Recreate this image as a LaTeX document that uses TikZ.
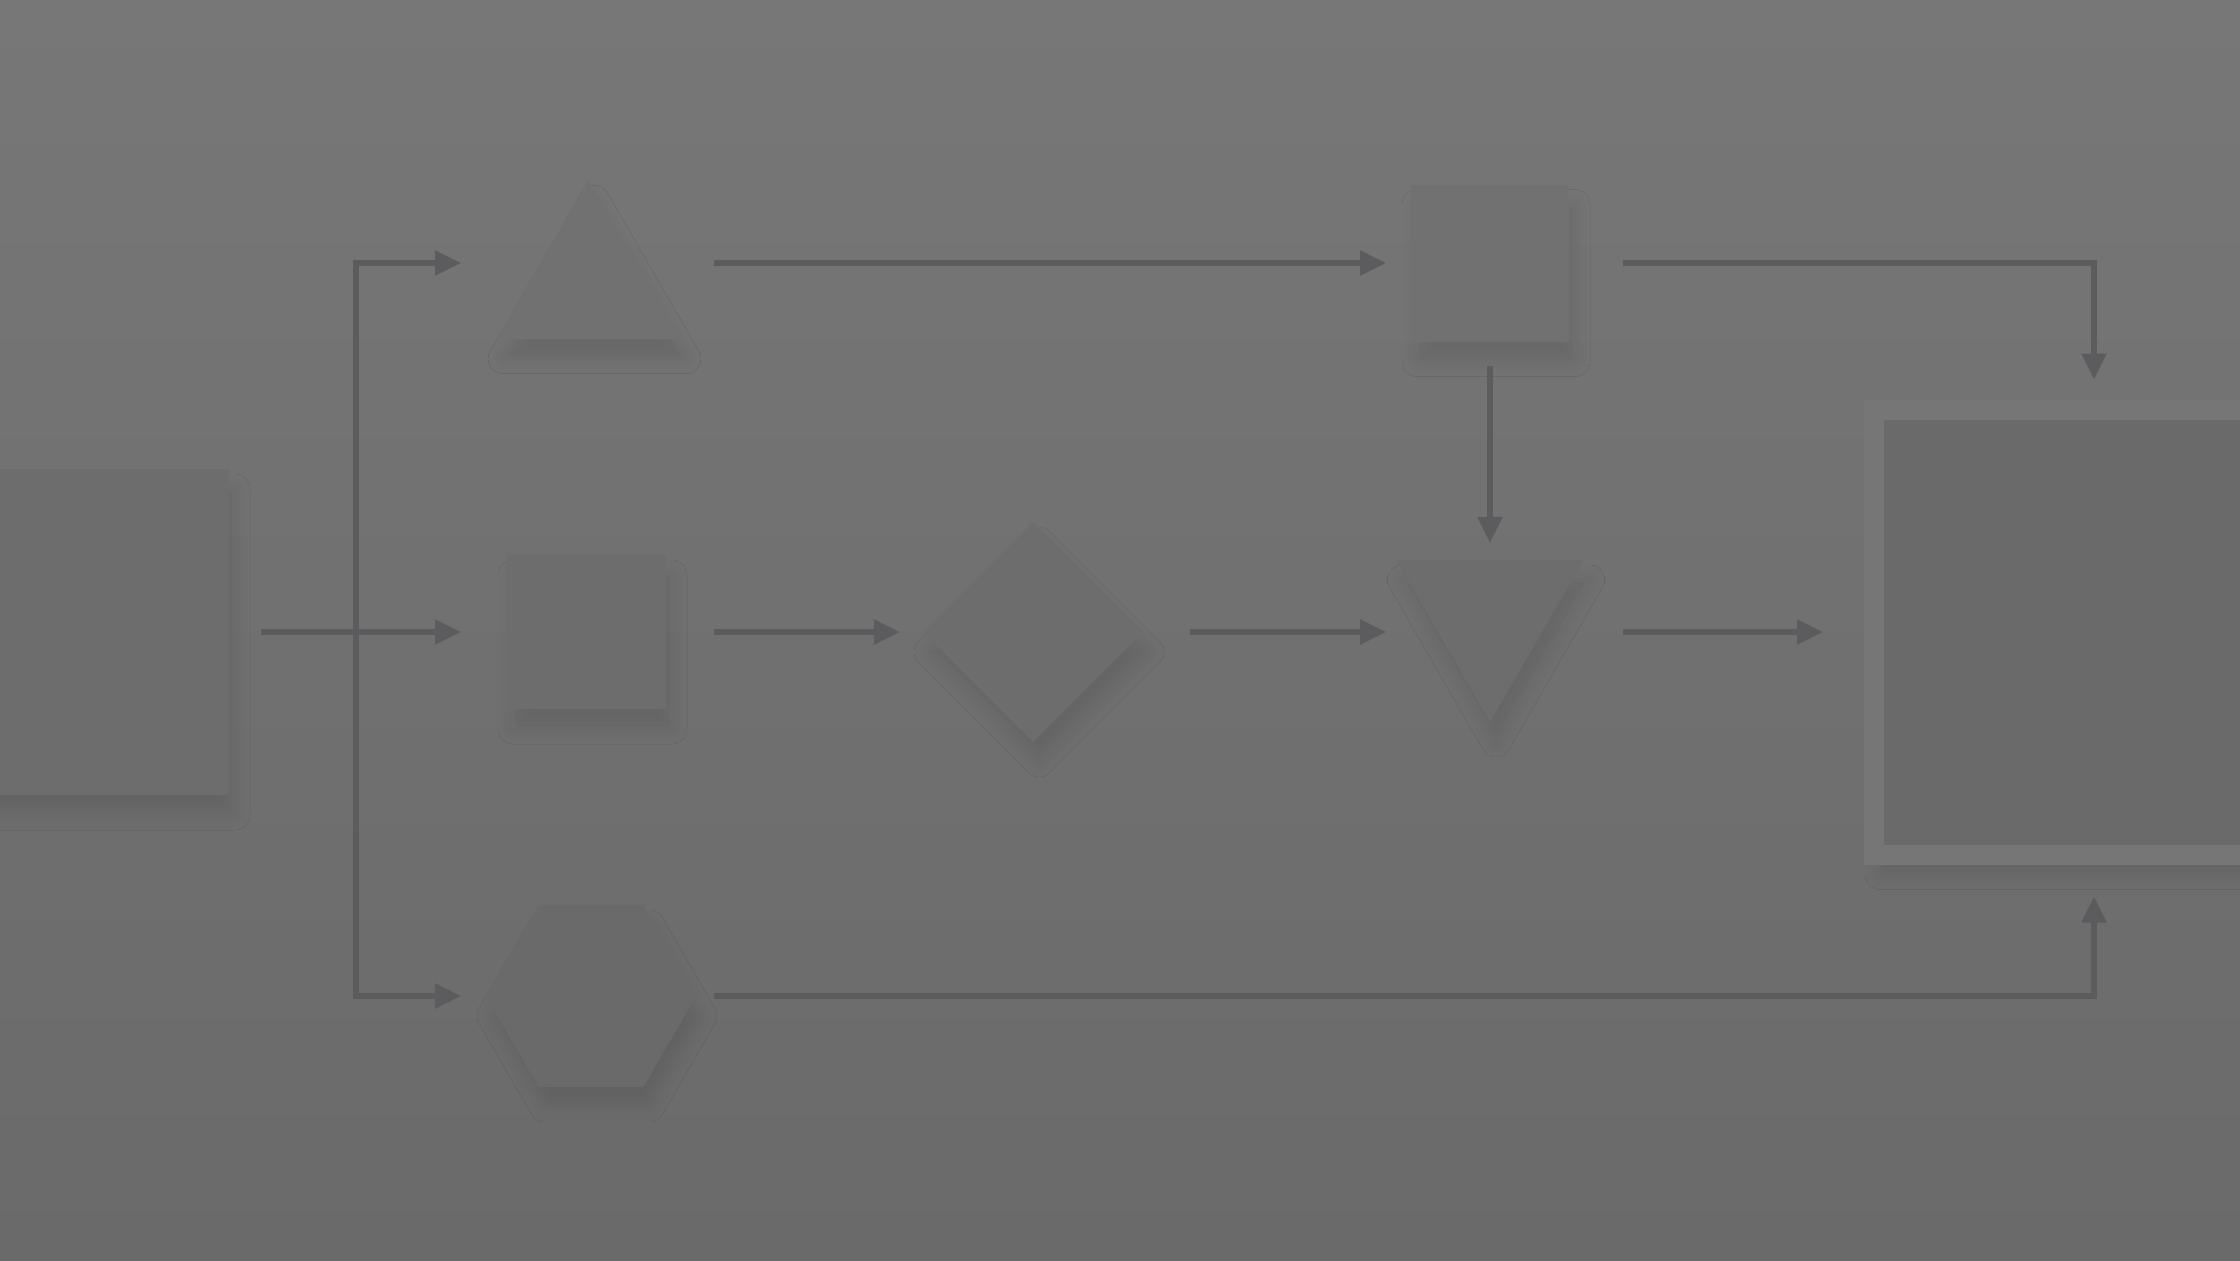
\documentclass[tikz,border=0pt]{standalone}
\usepackage{xcolor}
\usepackage{tikz}
\usetikzlibrary{shapes,arrows.meta,positioning,calc,shadows.blur}
\definecolor{bgtop}{HTML}{777778}
\definecolor{bgbot}{HTML}{6A6A6B}
\definecolor{graytop}{HTML}{717172}
\definecolor{graymid}{HTML}{6D6D6E}
\definecolor{graybot}{HTML}{6A6A6B}
\definecolor{linegray}{HTML}{5C5C5E}
\definecolor{framegray}{HTML}{767677}

\begin{document}
\begin{tikzpicture}[
    arr/.style={-{Triangle[length=2.6mm,width=2.4mm]}, line width=1.6pt, draw=linegray},
    block/.style={fill=graymid, draw=none, inner sep=0pt, outer sep=0pt,
        blur shadow={shadow xshift=0.6mm, shadow yshift=-2mm, shadow blur radius=1.5mm, shadow opacity=9}},
]
    \useasboundingbox (0,0) rectangle (22.4,12.6);
    \shade[top color=bgtop, bottom color=bgbot] (0,0) rectangle (22.4,12.6);

    % shapes
    \node[block, minimum width=3.29cm, minimum height=3.26cm] (inbox) at (0.645,6.28) {};
    \node[block, fill=graytop, regular polygon, regular polygon sides=3, minimum size=2.11cm] (tri) at (5.885,9.74) {};
    \node[block, minimum width=1.59cm, minimum height=1.54cm] (sqB) at (5.865,6.28) {};
    \node[block, fill=graybot, regular polygon, regular polygon sides=6, minimum size=2.10cm] (hex) at (5.91,2.64) {};
    \node[block, diamond, minimum width=2.2cm, minimum height=2.2cm] (dia) at (10.33,6.28) {};
    \node[block, fill=graytop, minimum width=1.58cm, minimum height=1.57cm] (sqA) at (14.90,9.97) {};
    \node[block, regular polygon, regular polygon sides=3, shape border rotate=180, minimum size=2.16cm] (inv) at (14.90,6.46) {};
    \node[block, fill=graybot, draw=framegray, line width=2mm, outer sep=1mm,
        minimum width=5.16cm, minimum height=4.45cm] (frame) at (21.32,6.28) {};

    % columns
    \coordinate (bus) at (3.56,0);
    \coordinate (inA) at (4.61,0);
    \coordinate (outA) at (7.14,0);
    \coordinate (drop) at (20.94,0);

    % connectors
    \draw[arr, shorten <=3.2mm, shorten >=4.6mm] (inbox) -- (sqB);
    \draw[arr, {Triangle[length=2.6mm,width=2.4mm]}-{Triangle[length=2.6mm,width=2.4mm]}]
        (sqA -| inA) -| (bus |- sqB) |- (hex -| inA);
    \draw[arr, shorten >=2.5mm] (sqA -| outA) -- (sqA);
    \draw[arr, shorten >=2.3mm] (sqB -| outA) -- (dia);
    \draw[arr] (hex -| outA) -| ([yshift=-3.2mm]drop |- frame.south);
    \draw[arr, shorten <=2.4mm, shorten >=1.7mm] (sqA) -- (inv);
    \draw[arr] ([xshift=5.4mm]sqA.east) -| ([yshift=2mm]drop |- frame.north);
    \draw[arr, shorten <=4.7mm, shorten >=10.4mm] (dia) -- (dia -| inv);
    \draw[arr, shorten <=13.3mm, shorten >=4.1mm] (dia -| inv) -- (frame);
\end{tikzpicture}
\end{document}
